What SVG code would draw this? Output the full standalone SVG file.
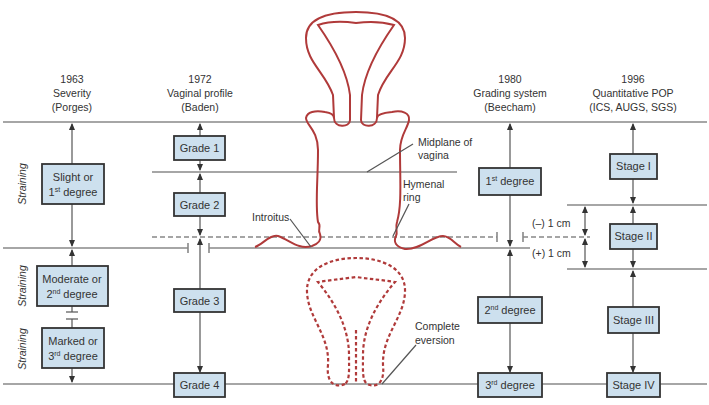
<svg xmlns="http://www.w3.org/2000/svg" width="709" height="405" viewBox="0 0 709 405">
<style>
.t{font-family:"Liberation Sans",Arial,sans-serif;font-size:10.5px;fill:#333}
.c{text-anchor:middle}
.s{font-style:italic}
.box rect{fill:#cde0ee;stroke:#333;stroke-width:1.8}
.box text{font-family:"Liberation Sans",Arial,sans-serif;font-size:11px;fill:#333;text-anchor:middle}
.h{stroke:#888;stroke-width:1.6;fill:none}
.a{stroke:#555;stroke-width:1.2;fill:none}
.r{stroke:#b03a3a;stroke-width:2;fill:none}
.rd{stroke:#b03a3a;stroke-width:2.2;fill:none;stroke-dasharray:3.5 2.5}
</style>
<defs>
<marker id="ar" viewBox="0 0 8 8" refX="7" refY="4" markerWidth="6" markerHeight="6" orient="auto-start-reverse"><path d="M0,0.5 L8,4 L0,7.5 Z" fill="#333"/></marker>
</defs>
<rect width="709" height="405" fill="#fff"/>
<g id="guides">
<line class="h" x1="3" y1="122" x2="707" y2="122"/>
<line class="h" x1="3" y1="384" x2="707" y2="384"/>
<line class="h" x1="3" y1="248" x2="188" y2="248"/>
<line class="h" x1="209" y1="248" x2="530" y2="248"/>
<line class="h" x1="188" y1="243" x2="188" y2="253"/>
<line class="h" x1="209" y1="243" x2="209" y2="253"/>
<line class="h" x1="152" y1="172" x2="457" y2="172"/>
<line class="h" x1="152" y1="237" x2="497" y2="237" stroke-dasharray="5 3"/>
<line class="h" x1="497" y1="232" x2="497" y2="242"/>
<line class="h" x1="523" y1="237" x2="590" y2="237" stroke-dasharray="5 3"/>
<line class="h" x1="523" y1="232" x2="523" y2="242"/>
<line class="h" x1="567" y1="205" x2="707" y2="205"/>
<line class="h" x1="567" y1="269" x2="707" y2="269"/>
</g>
<g id="anatomy">
<path class="r" d="M350,120 C350,128 334,128 334,118 L333,95 C325,72 306,62 306,38 C306,18 328,12 356,12 C384,12 405,18 405,38 C405,62 385,72 378,95 L377,118 C377,128 361,128 361,120 L362,95 C365,70 380,45 394,25 C380,21 370,21 356,23 C342,21 330,21 318,25 C332,45 347,70 350,95 Z"/>
<path class="r" d="M255,247 C262,245 270,234 278,236 C290,240 298,250 312,246 C318,244 322,240 320,234 C317,230 322,226 318,222 C315,205 318,180 318,150 C318,130 306,125 306,118 C307,112 315,110 325,112 C332,113 334,115 334,118"/>
<path class="r" d="M377,118 C377,115 382,113 392,112 C402,110 410,113 409,120 C408,128 400,135 400,150 C400,180 402,205 397,222 C395,228 398,232 396,236 C393,242 396,247 405,249 C420,250 432,236 443,236 C450,236 455,244 461,247"/>
<path class="rd" d="M345,384 C336,388 326,384 328,365 C330,335 308,318 307,292 C306,268 330,258 356,258 C382,258 406,268 405,292 C404,318 382,335 383,365 C385,384 376,388 367,384 C362,380 363,370 363,355 C363,330 375,305 395,282 C382,280 370,279 356,277 C342,279 330,280 318,282 C337,305 349,330 349,355 C349,370 350,380 345,384 Z"/>
<path class="rd" d="M356,330 L356,382"/>
</g>
<g id="connectors">
<line class="a" x1="72" y1="124" x2="72" y2="164" marker-start="url(#ar)"/>
<line class="a" x1="72" y1="204" x2="72" y2="246" marker-end="url(#ar)"/>
<line class="a" x1="72" y1="250" x2="72" y2="266" marker-start="url(#ar)"/>
<line class="a" x1="72" y1="306" x2="72" y2="312"/>
<line class="a" x1="66" y1="312" x2="78" y2="312"/>
<line class="a" x1="66" y1="319" x2="78" y2="319"/>
<line class="a" x1="72" y1="319" x2="72" y2="328"/>
<line class="a" x1="72" y1="368" x2="72" y2="382" marker-end="url(#ar)"/>
<line class="a" x1="200" y1="124" x2="200" y2="136" marker-start="url(#ar)"/>
<line class="a" x1="200" y1="160" x2="200" y2="170" marker-end="url(#ar)"/>
<line class="a" x1="200" y1="174" x2="200" y2="193" marker-start="url(#ar)"/>
<line class="a" x1="200" y1="216" x2="200" y2="235" marker-end="url(#ar)"/>
<line class="a" x1="200" y1="239" x2="200" y2="289" marker-start="url(#ar)"/>
<line class="a" x1="200" y1="312" x2="200" y2="372" marker-end="url(#ar)"/>
<line class="a" x1="510" y1="124" x2="510" y2="168" marker-start="url(#ar)"/>
<line class="a" x1="510" y1="195" x2="510" y2="246" marker-end="url(#ar)"/>
<line class="a" x1="510" y1="250" x2="510" y2="297" marker-start="url(#ar)"/>
<line class="a" x1="510" y1="323" x2="510" y2="372" marker-end="url(#ar)"/>
<line class="a" x1="633" y1="124" x2="633" y2="154" marker-start="url(#ar)"/>
<line class="a" x1="633" y1="179" x2="633" y2="203" marker-end="url(#ar)"/>
<line class="a" x1="633" y1="207" x2="633" y2="224" marker-start="url(#ar)"/>
<line class="a" x1="633" y1="249" x2="633" y2="267" marker-end="url(#ar)"/>
<line class="a" x1="633" y1="271" x2="633" y2="307" marker-start="url(#ar)"/>
<line class="a" x1="633" y1="333" x2="633" y2="372" marker-end="url(#ar)"/>
<line class="a" x1="585" y1="207" x2="585" y2="235" marker-start="url(#ar)" marker-end="url(#ar)"/>
<line class="a" x1="585" y1="239" x2="585" y2="267" marker-start="url(#ar)" marker-end="url(#ar)"/>
<line class="a" x1="413" y1="144" x2="367" y2="172"/>
<line class="a" x1="409" y1="204" x2="393" y2="236"/>
<line class="a" x1="290" y1="219" x2="311" y2="247"/>
<line class="a" x1="416" y1="345" x2="382" y2="384"/>
</g>
<g id="labels">
<text class="t c" x="72" y="83">1963</text>
<text class="t c" x="72" y="97">Severity</text>
<text class="t c" x="72" y="111">(Porges)</text>
<text class="t c" x="200" y="83">1972</text>
<text class="t c" x="200" y="97">Vaginal profile</text>
<text class="t c" x="200" y="111">(Baden)</text>
<text class="t c" x="510" y="83">1980</text>
<text class="t c" x="510" y="97">Grading system</text>
<text class="t c" x="510" y="111">(Beecham)</text>
<text class="t c" x="633" y="83">1996</text>
<text class="t c" x="633" y="97">Quantitative POP</text>
<text class="t c" x="633" y="111">(ICS, AUGS, SGS)</text>
<text class="t s c" transform="translate(26,184) rotate(-90)">Straining</text>
<text class="t s c" transform="translate(26,286) rotate(-90)">Straining</text>
<text class="t s c" transform="translate(26,349) rotate(-90)">Straining</text>
<text class="t" x="418" y="146">Midplane of</text>
<text class="t" x="418" y="159">vagina</text>
<text class="t" x="403" y="188">Hymenal</text>
<text class="t" x="403" y="201">ring</text>
<text class="t" x="252" y="221">Introitus</text>
<text class="t" x="415" y="330">Complete</text>
<text class="t" x="415" y="344">eversion</text>
<text class="t" x="532" y="227">(–) 1 cm</text>
<text class="t" x="532" y="257">(+) 1 cm</text>
</g>
<g id="n-slight" class="box"><rect x="42" y="164" width="62" height="40"/><text x="73" y="181">Slight or</text><text x="73" y="196">1<tspan font-size="7" dy="-4">st</tspan><tspan dy="4"> degree</tspan></text></g>
<g id="n-moderate" class="box"><rect x="37" y="266" width="71" height="40"/><text x="72" y="283">Moderate or</text><text x="72" y="298">2<tspan font-size="7" dy="-4">nd</tspan><tspan dy="4"> degree</tspan></text></g>
<g id="n-marked" class="box"><rect x="42" y="328" width="62" height="40"/><text x="73" y="345">Marked or</text><text x="73" y="360">3<tspan font-size="7" dy="-4">rd</tspan><tspan dy="4"> degree</tspan></text></g>
<g id="n-g1" class="box"><rect x="174" y="136" width="51" height="24"/><text x="199.5" y="152">Grade 1</text></g>
<g id="n-g2" class="box"><rect x="174" y="193" width="51" height="23"/><text x="199.5" y="208.5">Grade 2</text></g>
<g id="n-g3" class="box"><rect x="174" y="289" width="51" height="23"/><text x="199.5" y="304.5">Grade 3</text></g>
<g id="n-g4" class="box"><rect x="174" y="373" width="51" height="24"/><text x="199.5" y="389">Grade 4</text></g>
<g id="n-d1" class="box"><rect x="479" y="168" width="62" height="27"/><text x="510" y="185">1<tspan font-size="7" dy="-4">st</tspan><tspan dy="4"> degree</tspan></text></g>
<g id="n-d2" class="box"><rect x="478" y="297" width="64" height="26"/><text x="510" y="314">2<tspan font-size="7" dy="-4">nd</tspan><tspan dy="4"> degree</tspan></text></g>
<g id="n-d3" class="box"><rect x="478" y="373" width="64" height="24"/><text x="510" y="389">3<tspan font-size="7" dy="-4">rd</tspan><tspan dy="4"> degree</tspan></text></g>
<g id="n-s1" class="box"><rect x="610" y="154" width="47" height="25"/><text x="633.5" y="170">Stage I</text></g>
<g id="n-s2" class="box"><rect x="610" y="224" width="47" height="25"/><text x="633.5" y="240">Stage II</text></g>
<g id="n-s3" class="box"><rect x="608" y="307" width="51" height="26"/><text x="633.5" y="324">Stage III</text></g>
<g id="n-s4" class="box"><rect x="607" y="373" width="53" height="24"/><text x="633.5" y="389">Stage IV</text></g>
</svg>
